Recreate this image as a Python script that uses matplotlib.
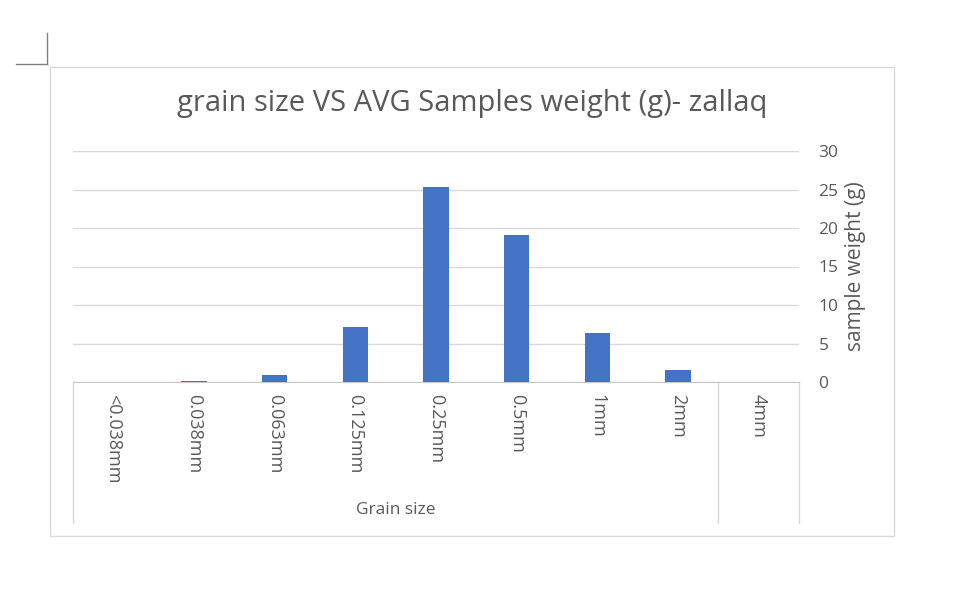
import matplotlib.pyplot as plt
from matplotlib.lines import Line2D
from matplotlib.patches import Rectangle
import matplotlib.transforms as mtransforms

plt.rcParams['font.family'] = ['Open Sans', 'DejaVu Sans']

categories = ["<0.038mm", "0.038mm", "0.063mm", "0.125mm", "0.25mm",
              "0.5mm", "1mm", "2mm", "4mm"]
weights = [0.0, 0.15, 0.9, 7.2, 25.3, 19.1, 6.4, 1.6, 0.0]
group_label = "Grain size"
group_size = 8
y_ticks = [0, 5, 10, 15, 20, 25, 30]

BAR = "#4472C4"
GRID = "#d9d9d9"
TEXT = "#595959"

fig = plt.figure(figsize=(9.72, 6.15), dpi=100)
ax = fig.add_axes([73 / 972, 1 - 382 / 615, 726 / 972, 231 / 615])

x = list(range(len(categories)))
ax.bar(x, weights, width=0.31, color=BAR, zorder=3)

ax.set_xlim(-0.5, len(categories) - 0.5)
ax.set_ylim(0, 30)
ax.set_yticks(y_ticks)
ax.yaxis.tick_right()
ax.yaxis.set_label_position("right")
ax.grid(axis="y", color=GRID, linewidth=1, zorder=0)
ax.tick_params(axis="y", length=0, pad=14, labelsize=12.5, labelcolor=TEXT)
ax.set_ylabel("sample weight (g)", fontsize=15, color=TEXT, labelpad=5)

ax.set_xticks(x)
ax.set_xticklabels(categories, rotation=-90, ha="center", va="top",
                   fontsize=13, color=TEXT)
ax.tick_params(axis="x", length=0, pad=9)

for side in ["top", "left", "right"]:
    ax.spines[side].set_visible(False)
ax.spines["bottom"].set_color("#c8c8c8")

# multi-level category box lines
trans = mtransforms.blended_transform_factory(ax.transData, ax.transAxes)
for xv in [-0.5, group_size - 0.5, len(categories) - 0.5]:
    ax.add_line(Line2D([xv, xv], [0, -141 / 231], transform=trans,
                       color=GRID, linewidth=1, clip_on=False))
ax.text((group_size - 1) / 2, -128 / 231, group_label, transform=trans,
        ha="center", va="center", fontsize=12.5, color=TEXT)

fig.suptitle("grain size VS AVG Samples weight (g)- zallaq", x=472 / 972,
             y=1 - 103 / 615, va="center", fontsize=21, color=TEXT)

# chart border and corner mark
fig.patches.append(Rectangle((50 / 972, 1 - 536 / 615), 844 / 972, 469 / 615,
                             transform=fig.transFigure, fill=False,
                             edgecolor=GRID, linewidth=1))
fig.add_artist(Line2D([16 / 972, 47 / 972], [1 - 64 / 615, 1 - 64 / 615],
                      transform=fig.transFigure, color="#808080", linewidth=1))
fig.add_artist(Line2D([47 / 972, 47 / 972], [1 - 33 / 615, 1 - 64 / 615],
                      transform=fig.transFigure, color="#808080", linewidth=1))

fig.savefig("out.png", dpi=100)
